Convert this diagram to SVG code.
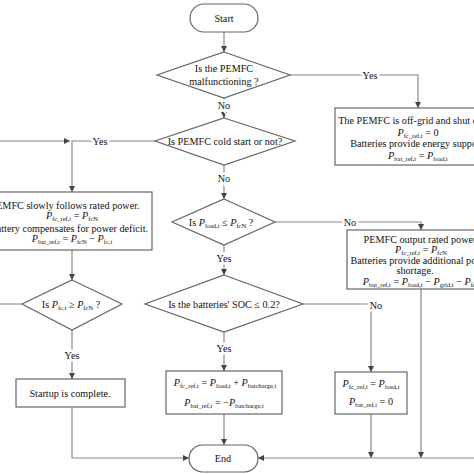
<svg xmlns="http://www.w3.org/2000/svg" width="474" height="474" viewBox="0 0 474 474" font-family="'Liberation Serif', 'DejaVu Serif', serif">
<style>
text{font-family:'Liberation Serif','DejaVu Serif',serif;font-size:10.2px;fill:#111;text-anchor:middle}
.i{font-style:italic}
.s{font-size:6.5px}
.lbl{paint-order:stroke;stroke:#fff;stroke-width:5px}
.box{fill:#fff;stroke:#666;stroke-width:1.2}
.con path{fill:none;stroke:#888;stroke-width:1.2;marker-end:url(#ah)}
</style>
<defs>
<marker id="ah" markerWidth="7" markerHeight="7" refX="6" refY="3.5" orient="auto" markerUnits="userSpaceOnUse">
<path d="M0,0.5 L6,3.5 L0,6.5 Z" fill="#444"/>
</marker>
</defs>
<rect width="474" height="474" fill="#fff"/>
<g class="con" id="connectors">
<path d="M224,32 V52"/>
<path d="M290,75 H418 V108"/>
<path d="M224,98 V118"/>
<path d="M155,141 H72 V192"/>
<path d="M22,304 H-10 V141 H70"/>
<path d="M224,165 V199"/>
<path d="M275,222 H421 V230"/>
<path d="M224,245 V275"/>
<path d="M72,250 V280"/>
<path d="M72,330 V379"/>
<path d="M303,304 H371 V372"/>
<path d="M224,332 V371"/>
<path d="M224,414 V445"/>
<path d="M371,414 V458"/>
<path d="M421,289 V458"/>
<path d="M72,407 V458 H189"/>
<path d="M480,458 H258"/>
</g>
<g id="labels">
<text class="lbl" x="370" y="78.5">Yes</text>
<text class="lbl" x="224" y="108.5">No</text>
<text class="lbl" x="100" y="144.5">Yes</text>
<text class="lbl" x="224" y="181.5">No</text>
<text class="lbl" x="350" y="225.5">No</text>
<text class="lbl" x="224" y="261.5">Yes</text>
<text class="lbl" x="72" y="358.5">Yes</text>
<text class="lbl" x="376" y="308.5">No</text>
<text class="lbl" x="224" y="351.5">Yes</text>
</g>
<g id="start">
<rect class="box" x="190" y="4" width="68" height="28" rx="14"/>
<text x="224" y="21.5">Start</text>
</g>
<g id="d-malfunction">
<polygon class="box" points="224,52 290,75 224,98 157,75"/>
<text x="224" y="71.5">Is the PEMFC</text>
<text x="224" y="85">malfunctioning ?</text>
</g>
<g id="b-offgrid">
<rect class="box" x="335" y="108" width="166" height="57"/>
<text x="418" y="123.5">The PEMFC is off-grid and shut down.</text>
<text x="418" y="135.5"><tspan class="i">P</tspan><tspan class="s" dy="2">fc_ref,t</tspan><tspan dy="-2"> = 0</tspan></text>
<text x="418" y="146.5">Batteries provide energy support.</text>
<text x="418" y="158.5"><tspan class="i">P</tspan><tspan class="s" dy="2">bat_ref,t</tspan><tspan dy="-2"> = </tspan><tspan class="i">P</tspan><tspan class="s" dy="2">load,t</tspan></text>
</g>
<g id="d-cold">
<polygon class="box" points="224,118 295,141 224,165 155,141"/>
<text x="225" y="144.5">Is PEMFC cold start or not?</text>
</g>
<g id="b-slow">
<rect class="box" x="-8" y="192" width="160" height="58"/>
<text x="65" y="208.5">PEMFC slowly follows rated power.</text>
<text x="72" y="218.5"><tspan class="i">P</tspan><tspan class="s" dy="2">fc_ref,t</tspan><tspan dy="-2"> = </tspan><tspan class="i">P</tspan><tspan class="s" dy="2">fcN</tspan></text>
<text x="69" y="231.5">Battery compensates for power deficit.</text>
<text x="72" y="241.5"><tspan class="i">P</tspan><tspan class="s" dy="2">bat_ref,t</tspan><tspan dy="-2"> = </tspan><tspan class="i">P</tspan><tspan class="s" dy="2">fcN</tspan><tspan dy="-2"> − </tspan><tspan class="i">P</tspan><tspan class="s" dy="2">fc,t</tspan></text>
</g>
<g id="d-load">
<polygon class="box" points="224,199 275,222 224,245 172,222"/>
<text x="221" y="225.5">Is <tspan class="i">P</tspan><tspan class="s" dy="2">load,t</tspan><tspan dy="-2"> ≤ </tspan><tspan class="i">P</tspan><tspan class="s" dy="2">fcN</tspan><tspan dy="-2"> ?</tspan></text>
</g>
<g id="b-rated">
<rect class="box" x="347" y="230" width="148" height="59"/>
<text x="421" y="243">PEMFC output rated power.</text>
<text x="421" y="253"><tspan class="i">P</tspan><tspan class="s" dy="2">fc_ref,t</tspan><tspan dy="-2"> = </tspan><tspan class="i">P</tspan><tspan class="s" dy="2">fcN</tspan></text>
<text x="421" y="264">Batteries provide additional power</text>
<text x="415" y="273.5">shortage.</text>
<text x="421" y="284.5"><tspan class="i">P</tspan><tspan class="s" dy="2">bat_ref,t</tspan><tspan dy="-2"> = </tspan><tspan class="i">P</tspan><tspan class="s" dy="2">load,t</tspan><tspan dy="-2"> − </tspan><tspan class="i">P</tspan><tspan class="s" dy="2">grid,t</tspan><tspan dy="-2"> − </tspan><tspan class="i">P</tspan><tspan class="s" dy="2">fc,t</tspan></text>
</g>
<g id="d-fc">
<polygon class="box" points="72,280 122,304 72,330 22,304"/>
<text x="71" y="307.5">Is <tspan class="i">P</tspan><tspan class="s" dy="2">fc,t</tspan><tspan dy="-2"> ≥ </tspan><tspan class="i">P</tspan><tspan class="s" dy="2">fcN</tspan><tspan dy="-2"> ?</tspan></text>
</g>
<g id="d-soc">
<polygon class="box" points="224,275 303,304 224,332 145,304"/>
<text x="224" y="307.5">Is the batteries' SOC ≤ 0.2?</text>
</g>
<g id="b-startup">
<rect class="box" x="16" y="379" width="109" height="28"/>
<text x="70" y="397">Startup is complete.</text>
</g>
<g id="b-charge">
<rect class="box" x="166" y="371" width="116" height="43"/>
<text x="225" y="385.5"><tspan class="i">P</tspan><tspan class="s" dy="2">fc_ref,t</tspan><tspan dy="-2"> = </tspan><tspan class="i">P</tspan><tspan class="s" dy="2">load,t</tspan><tspan dy="-2"> + </tspan><tspan class="i">P</tspan><tspan class="s" dy="2">batcharge,t</tspan></text>
<text x="224" y="405.5"><tspan class="i">P</tspan><tspan class="s" dy="2">bat_ref,t</tspan><tspan dy="-2"> = −</tspan><tspan class="i">P</tspan><tspan class="s" dy="2">batcharge,t</tspan></text>
</g>
<g id="b-follow">
<rect class="box" x="335" y="372" width="72" height="42"/>
<text x="371" y="386.5"><tspan class="i">P</tspan><tspan class="s" dy="2">fc_ref,t</tspan><tspan dy="-2"> = </tspan><tspan class="i">P</tspan><tspan class="s" dy="2">load,t</tspan></text>
<text x="371" y="404.5"><tspan class="i">P</tspan><tspan class="s" dy="2">bat_ref,t</tspan><tspan dy="-2"> = 0</tspan></text>
</g>
<g id="end">
<rect class="box" x="189" y="445" width="69" height="27" rx="13.5"/>
<text x="223" y="462">End</text>
</g>
</svg>
